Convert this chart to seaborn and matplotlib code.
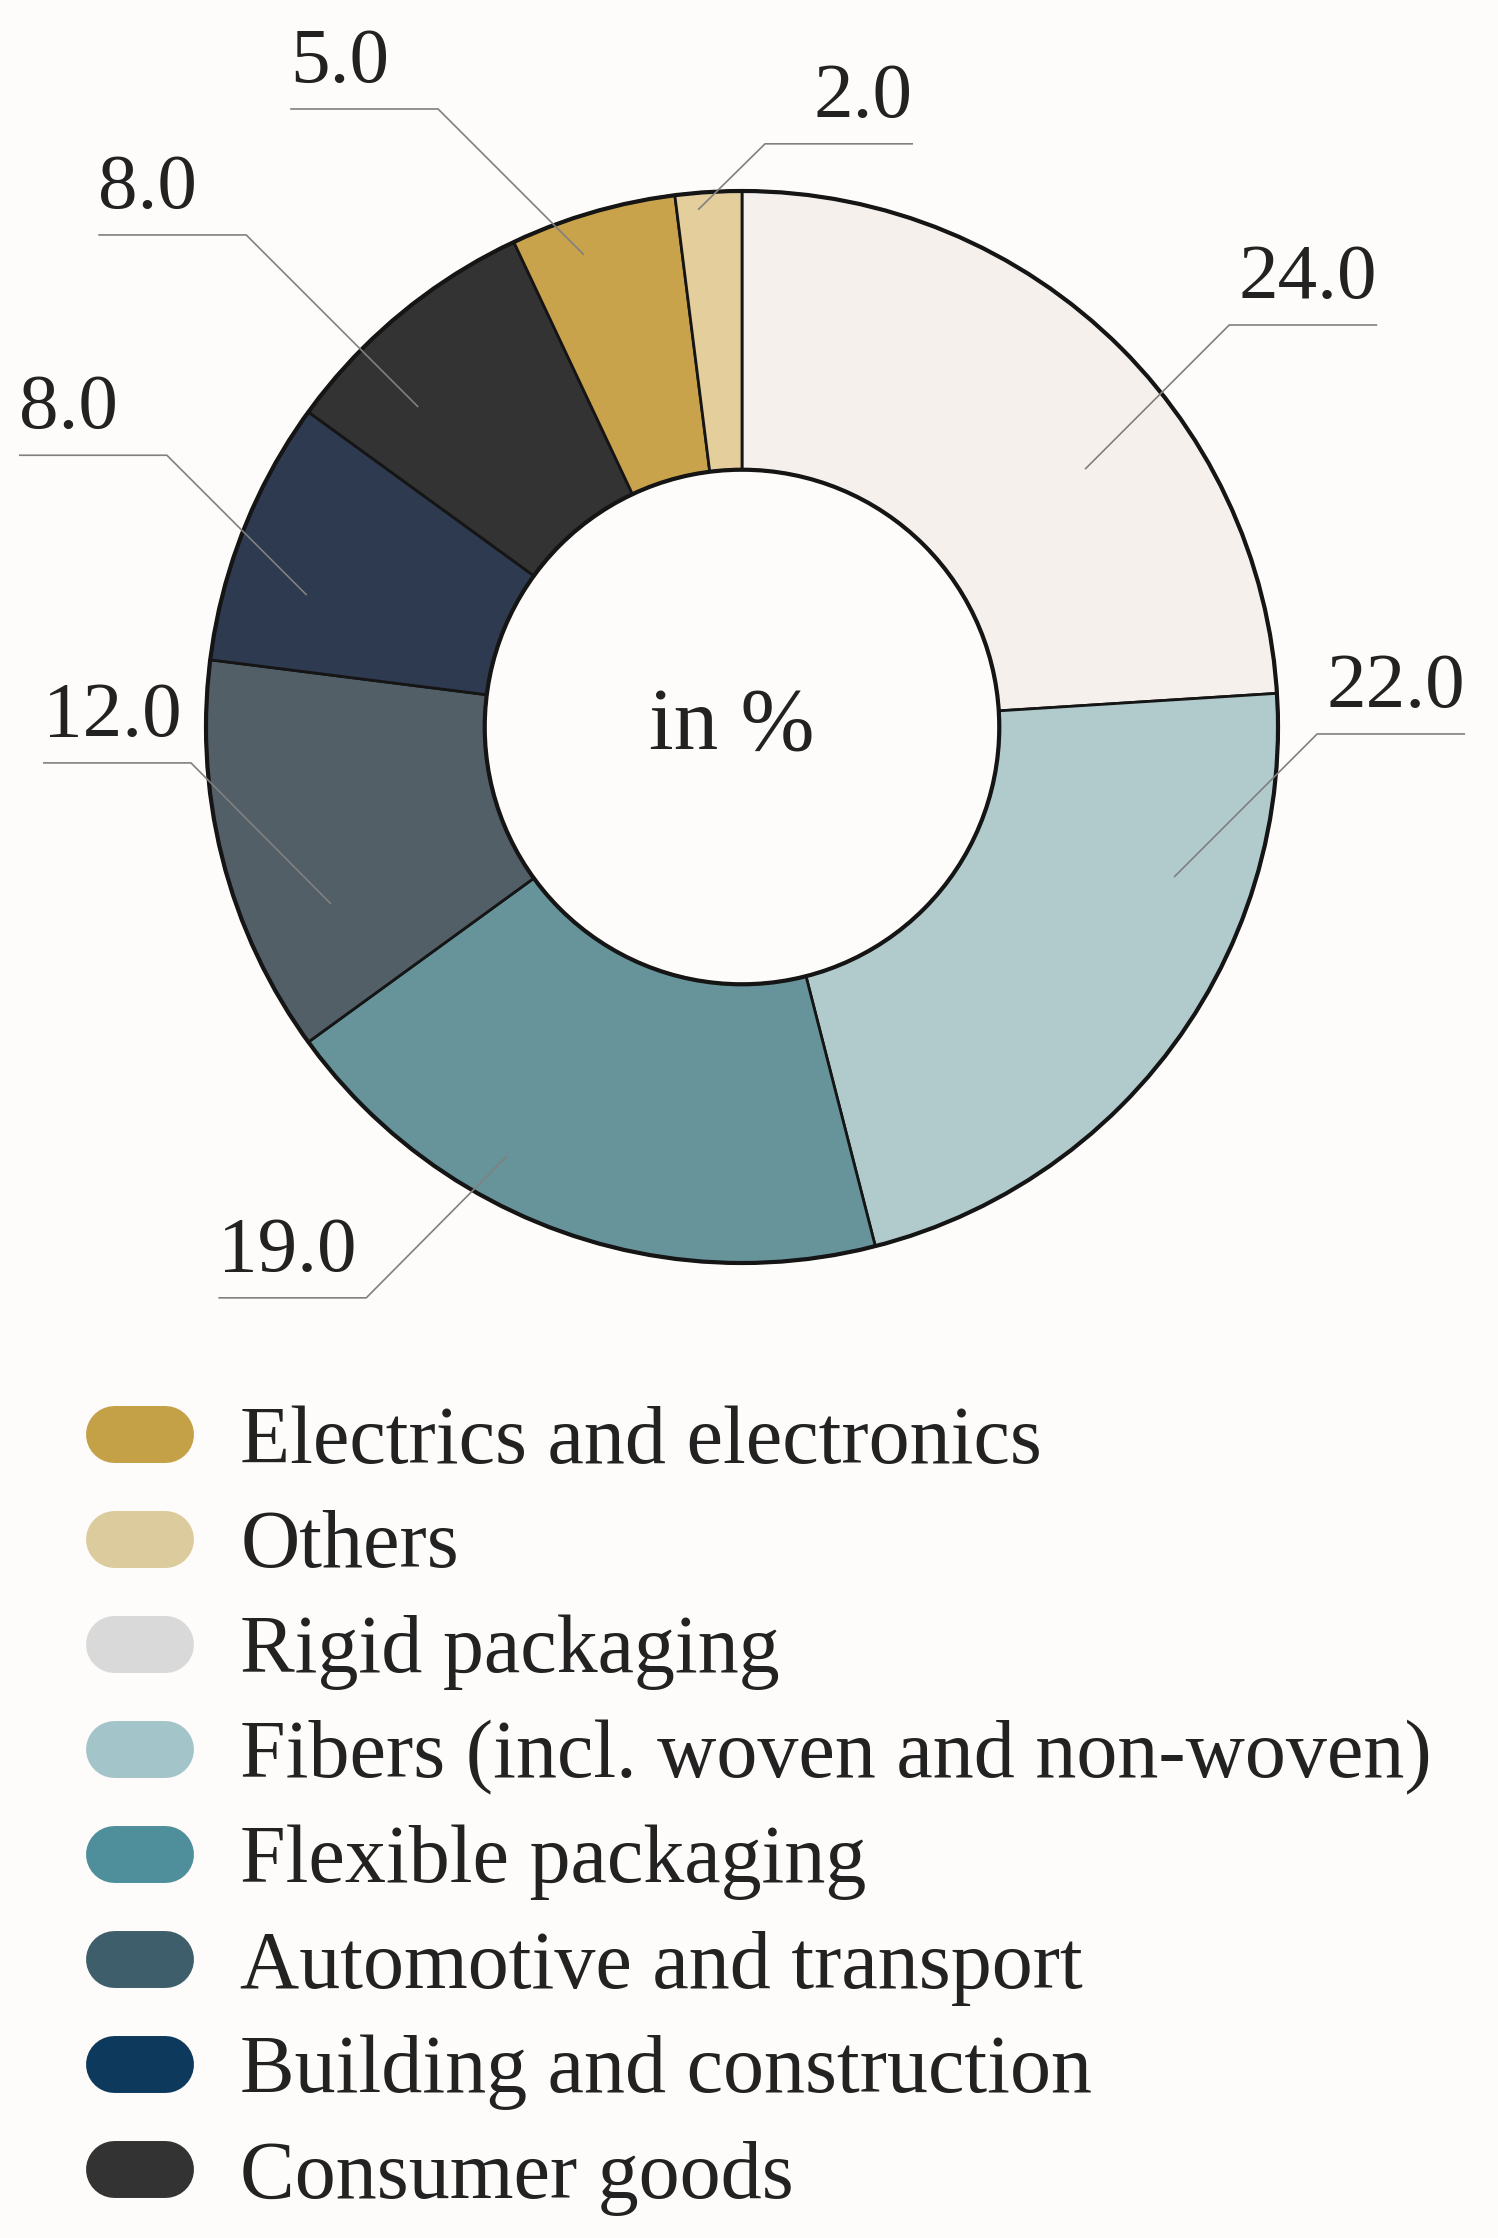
import numpy as np
import pandas as pd
import matplotlib
matplotlib.use('Agg')
import matplotlib.pyplot as plt
from matplotlib.lines import Line2D
from matplotlib.patches import Circle
import seaborn as sns

sns.set_theme(style='white')
plt.rcParams['font.family'] = ['Liberation Serif', 'DejaVu Serif']

# data, clockwise from 12 o'clock
sectors = ['Rigid packaging', 'Fibers (incl. woven and non-woven)', 'Flexible packaging',
           'Automotive and transport', 'Building and construction', 'Consumer goods',
           'Electrics and electronics', 'Others']
shares = [24.0, 22.0, 19.0, 12.0, 8.0, 8.0, 5.0, 2.0]
ring_colors = ['#f5f0ec', '#b1cbcc', '#66949a', '#525f67', '#2e3a50', '#333333', '#c9a24c', '#e4cf9c']

# legend order / swatch colours (slightly different from the ring in the original)
legend_labels = ['Electrics and electronics', 'Others', 'Rigid packaging',
                 'Fibers (incl. woven and non-woven)', 'Flexible packaging',
                 'Automotive and transport', 'Building and construction', 'Consumer goods']
legend_colors = ['#c4a046', '#dccb9c', '#d9d9d9', '#a3c4c8', '#4f8f9b', '#3f5e6b', '#0d3a5c', '#333333']

df = pd.DataFrame({'sector': sectors, 'share': shares, 'color': ring_colors})

# label layout: elbow point, side of the horizontal tick, leader vector (pie units)
label_layout = {
    'Rigid packaging': (0.909, 0.750, 1, (-0.269, -0.269)),
    'Fibers (incl. woven and non-woven)': (1.073, -0.013, 1, (-0.267, -0.267)),
    'Flexible packaging': (-0.701, -1.065, -1, (0.263, 0.265)),
    'Automotive and transport': (-1.028, -0.067, -1, (0.261, -0.263)),
    'Building and construction': (-1.073, 0.507, -1, (0.261, -0.261)),
    'Consumer goods': (-0.925, 0.918, -1, (0.321, -0.321)),
    'Electrics and electronics': (-0.567, 1.153, -1, (0.272, -0.272)),
    'Others': (0.043, 1.088, 1, (-0.125, -0.123)),
}
tick_len = 0.276

bg = '#fdfcfa'
fig = plt.figure(figsize=(14.98, 22.38), dpi=100, facecolor=bg)
ax = fig.add_axes([0, 1 - 1350 / 2238, 1, 1350 / 2238])
ax.set_facecolor(bg)

ax.pie(df['share'], colors=df['color'], startangle=90, counterclock=False,
       radius=1.0, wedgeprops=dict(width=0.52, edgecolor='#151515', linewidth=2.0))
ax.add_patch(Circle((0, 0), 1.0, fill=False, edgecolor='#151515', linewidth=3.0, zorder=3))
ax.add_patch(Circle((0, 0), 0.48, fill=False, edgecolor='#151515', linewidth=3.0, zorder=3))

for sector, share in zip(df['sector'], df['share']):
    ex, ey, side, (dx, dy) = label_layout[sector]
    tx = ex + side * tick_len
    ax.plot([ex + dx, ex, tx], [ey + dy, ey, ey], color='#808080', lw=1.2,
            solid_capstyle='butt', zorder=4)
    ax.text(tx, ey + 0.05, f'{share:.1f}', ha='left' if side < 0 else 'right',
            va='baseline', fontsize=57, color='#222222')

ax.text(-0.02, 0.0, 'in %', ha='center', va='center', fontsize=64, color='#222222')

ax.set_xlim(-742 / 536, (1498 - 742) / 536)
ax.set_ylim(-(1350 - 727) / 536, 727 / 536)
ax.axis('off')

handles = [Line2D([0], [0], color=c, lw=41, solid_capstyle='round') for c in legend_colors]
fig.legend(handles, legend_labels, loc='upper left', bbox_to_anchor=(114 / 1498, 1 - 1405 / 2238),
           frameon=False, fontsize=59, handlelength=0.62, handletextpad=0.92,
           labelspacing=0.36, borderpad=0, borderaxespad=0, labelcolor='#222222')

fig.savefig('out.png', dpi=100, facecolor=bg)
